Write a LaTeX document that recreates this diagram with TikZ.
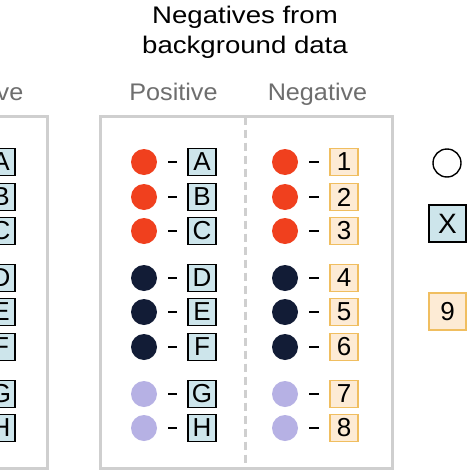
\documentclass[tikz,border=0pt]{standalone}
\usepackage{fontspec}
\setmainfont{Liberation Sans}
\newfontfamily\titlefont[FakeStretch=1.15]{Liberation Sans}
\newfontfamily\headfont[FakeStretch=1.05]{Liberation Sans}
\definecolor{cred}{HTML}{F0401E}
\definecolor{cnavy}{HTML}{121C36}
\definecolor{clav}{HTML}{B6B1E4}
\definecolor{lblue}{HTML}{CDE5EB}
\definecolor{nfill}{HTML}{FDEBD5}
\definecolor{nborder}{HTML}{F0BE60}
\definecolor{panelgray}{HTML}{CFCFCF}
\definecolor{headgray}{HTML}{6E6E6E}
\tikzset{
  dot/.style={circle, minimum size=26pt, inner sep=0pt, draw=none},
  lbox/.style={draw=black, fill=lblue, line width=1.4pt, minimum width=28pt, minimum height=27pt, inner sep=0pt, font=\fontsize{26}{26}\selectfont},
  nbox/.style={draw=nborder, fill=nfill, line width=1.4pt, minimum width=28pt, minimum height=27pt, inner sep=0pt, font=\fontsize{26}{26}\selectfont},
  conn/.style={line width=1.8pt, shorten <=11pt, shorten >=10pt},
  panel/.style={draw=panelgray, line width=3pt},
  divider/.style={draw=panelgray, line width=3pt, dash pattern=on 8pt off 5pt},
  titletext/.style={font=\titlefont\fontsize{24}{30}\selectfont, text=black, inner sep=0pt},
  headtext/.style={font=\headfont\fontsize{24}{24}\selectfont, text=headgray, inner sep=0pt},
}
\begin{document}
\begin{tikzpicture}[x=1pt, y=-1pt]
  \useasboundingbox (0,0) rectangle (474,474);
  \clip (0,0) rectangle (474,474);
  \fill[white] (0,0) rectangle (474,474);
  % titles
  \node[titletext, anchor=base] (t1) at (245,23) {Negatives from};
  \node[titletext, anchor=base] (t2) at (245,53) {background data};
  \node[headtext, anchor=base] (hpos) at (173.5,100.5) {Positive};
  \node[headtext, anchor=base] (hneg) at (317.5,100.5) {Negative};
  \node[headtext, anchor=base east] (hleft) at (23.5,100.5) {Positive};
  % panels
  \draw[panel] (-120,116.5) rectangle (47,468);
  \draw[panel] (100,116.5) rectangle (392,468);
  \coordinate (dtop) at (245,116.5);
  \coordinate (dbot) at (245,468);
  \draw[divider] (dtop) -- (dbot);
  % rows
  \foreach \y/\l/\n/\c [count=\i] in {162/A/1/cred, 197/B/2/cred, 231/C/3/cred, 278/D/4/cnavy, 312/E/5/cnavy, 347/F/6/cnavy, 394/G/7/clav, 428/H/8/clav}{
    \node[dot, fill=\c] (pc\i) at (144,\y) {};
    \node[lbox] (pb\i) at (202,\y) {\l};
    \draw[conn] (pc\i) -- (pb\i);
    \node[dot, fill=\c] (nc\i) at (285,\y) {};
    \node[nbox] (nb\i) at (344,\y) {\n};
    \draw[conn] (nc\i) -- (nb\i);
    \node[lbox] (lb\i) at (1,\y) {\l};
  }
  % legend
  \node[circle, draw=black, line width=1.4pt, minimum size=28pt, inner sep=0pt] (legc) at (447,163) {};
  \node[lbox, minimum width=37pt, minimum height=37pt, font=\fontsize{28}{28}\selectfont] (legx) at (447.5,223.5) {X};
  \node[nbox, minimum width=37pt, minimum height=37pt, font=\fontsize{26}{26}\selectfont] (leg9) at (447.5,311.5) {9};
\end{tikzpicture}
\end{document}
